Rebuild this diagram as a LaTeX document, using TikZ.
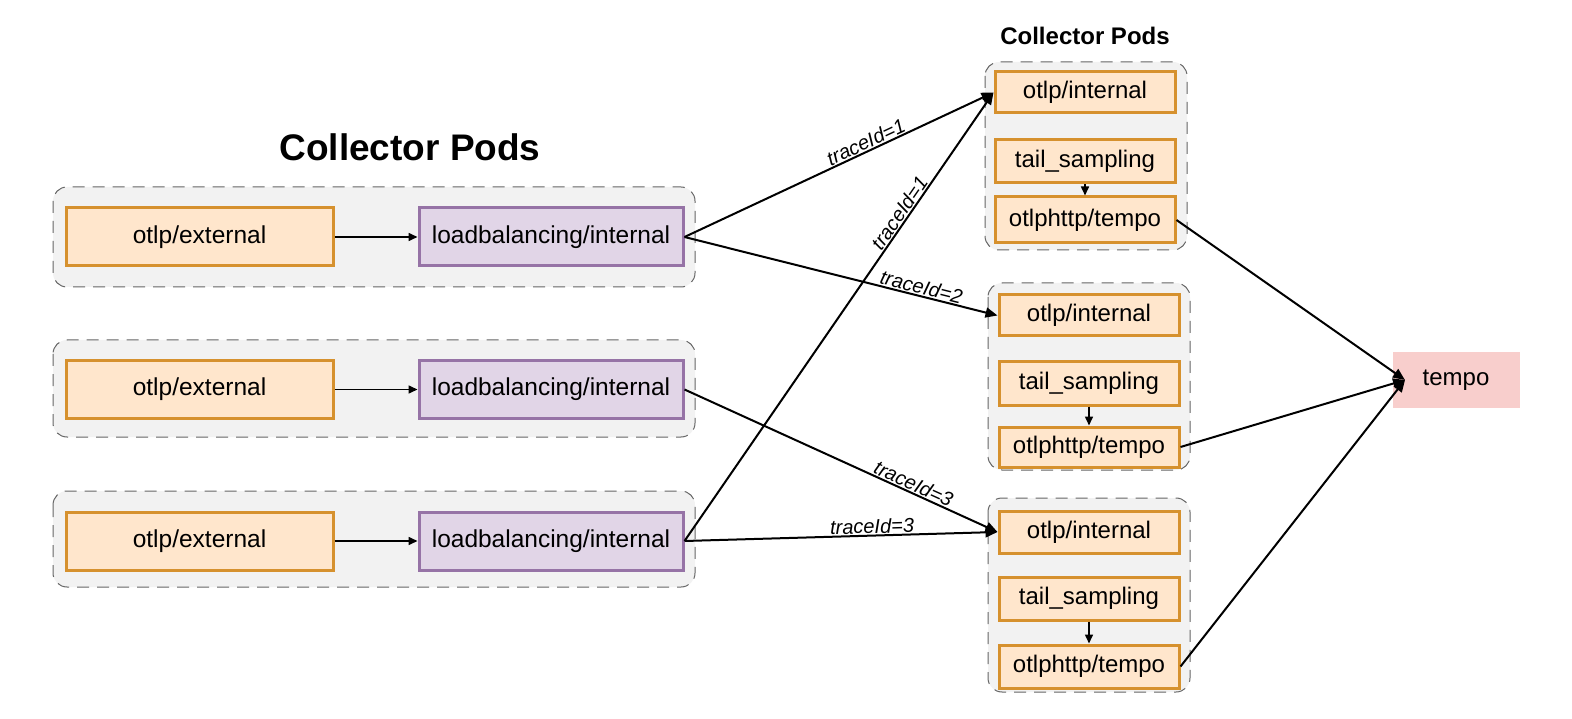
\documentclass[tikz,border=0pt]{standalone}
\usepackage{fontspec}
\setmainfont{Liberation Sans}
\usetikzlibrary{arrows.meta}
\definecolor{ofill}{HTML}{FFE6CC}
\definecolor{oline}{HTML}{D6912E}
\definecolor{pfill}{HTML}{E1D5E7}
\definecolor{pline}{HTML}{9673A6}
\definecolor{tfill}{HTML}{F8CECC}
\definecolor{gfill}{HTML}{F2F2F2}
\begin{document}
\begin{tikzpicture}[x=1pt,y=-1pt,
  pod/.style={draw=black!60,fill=gfill,dashed,dash pattern=on 12pt off 8pt,line width=1pt,rounded corners=14pt},
  ob/.style={draw=oline,fill=ofill,line width=3pt,inner sep=0pt,font=\fontsize{24.5}{28}\selectfont},
  pb/.style={draw=pline,fill=pfill,line width=3pt,inner sep=0pt,font=\fontsize{24.5}{28}\selectfont},
  rb/.style={draw=oline,fill=ofill,line width=3pt,inner sep=0pt,font=\fontsize{24}{28}\selectfont},
  arr/.style={-{Triangle[length=12pt,width=10pt]},line width=2pt},
  sarr/.style={-{Triangle[length=9pt,width=8pt]},line width=1.6pt},
  lab/.style={font=\itshape\fontsize{20}{24}\selectfont,sloped,above,inner sep=1pt}]
\useasboundingbox (0,0) rectangle (1572,719);
\node[font=\bfseries\fontsize{37}{44}\selectfont] (t1) at (410,147) {Collector Pods};
\node[font=\bfseries\fontsize{24}{28}\selectfont] (t2) at (1085,36) {Collector Pods};
% left pods
\foreach \i/\ya/\yb in {1/187/287,2/340/437,3/491/587}{
  \path[pod] (53,\ya) rectangle (695,\yb);
}
\foreach \i/\ya/\yb in {1/208/266,2/361/418,3/512/570}{
  \node[ob,minimum width=267pt,minimum height={\yb-\ya}] (oe\i) at (199.5,{(\ya+\yb)/2}) {otlp/external};
  \node[pb,minimum width=264pt,minimum height={\yb-\ya}] (lb\i) at (551,{(\ya+\yb)/2}) {loadbalancing/internal};
  \draw[sarr] (oe\i) -- (lb\i);
}
% right pods
\path[pod] (985,62) rectangle (1187,250);
\path[pod] (988,283) rectangle (1190,470);
\path[pod] (988,498) rectangle (1190,692);
\node[rb,minimum width=180pt,minimum height=41pt] (oi1) at (1085,92.5) {otlp/internal};
\node[rb,minimum width=180pt,minimum height=43pt] (ts1) at (1085,161.5) {tail\_sampling};
\node[rb,minimum width=180pt,minimum height=46pt] (oh1) at (1085,220) {otlphttp/tempo};
\node[rb,minimum width=180pt,minimum height=41pt] (oi2) at (1089,315.5) {otlp/internal};
\node[rb,minimum width=180pt,minimum height=43pt] (ts2) at (1089,383.5) {tail\_sampling};
\node[rb,minimum width=180pt,minimum height=40pt] (oh2) at (1089,447) {otlphttp/tempo};
\node[rb,minimum width=180pt,minimum height=42pt] (oi3) at (1089,532) {otlp/internal};
\node[rb,minimum width=180pt,minimum height=43pt] (ts3) at (1089,598.5) {tail\_sampling};
\node[rb,minimum width=180pt,minimum height=43pt] (oh3) at (1089,666.5) {otlphttp/tempo};
\foreach \i in {1,2,3}{\draw[sarr] (ts\i) -- (oh\i);}
\node[fill=tfill,minimum width=127pt,minimum height=56pt,font=\fontsize{24}{28}\selectfont] (tempo) at (1456,380) {tempo};
\coordinate (tin) at (1405,380);
% arrows
\draw[arr] (lb1.east) -- node[lab,pos=0.6]{traceId=1} (oi1.west);
\draw[arr] (lb1.east) -- node[lab,pos=0.75]{traceId=2} (oi2.west);
\draw[arr] (lb2.east) -- node[lab,pos=0.72]{traceId=3} (oi3.west);
\draw[arr] (lb3.east) -- node[lab,pos=0.6]{traceId=3} (oi3.west);
\draw[arr] (lb3.east) -- node[lab,pos=0.72]{traceId=1} (oi1.west);
\foreach \i in {1,2,3}{\draw[arr] (oh\i.east) -- (tin);}
\end{tikzpicture}
\end{document}
